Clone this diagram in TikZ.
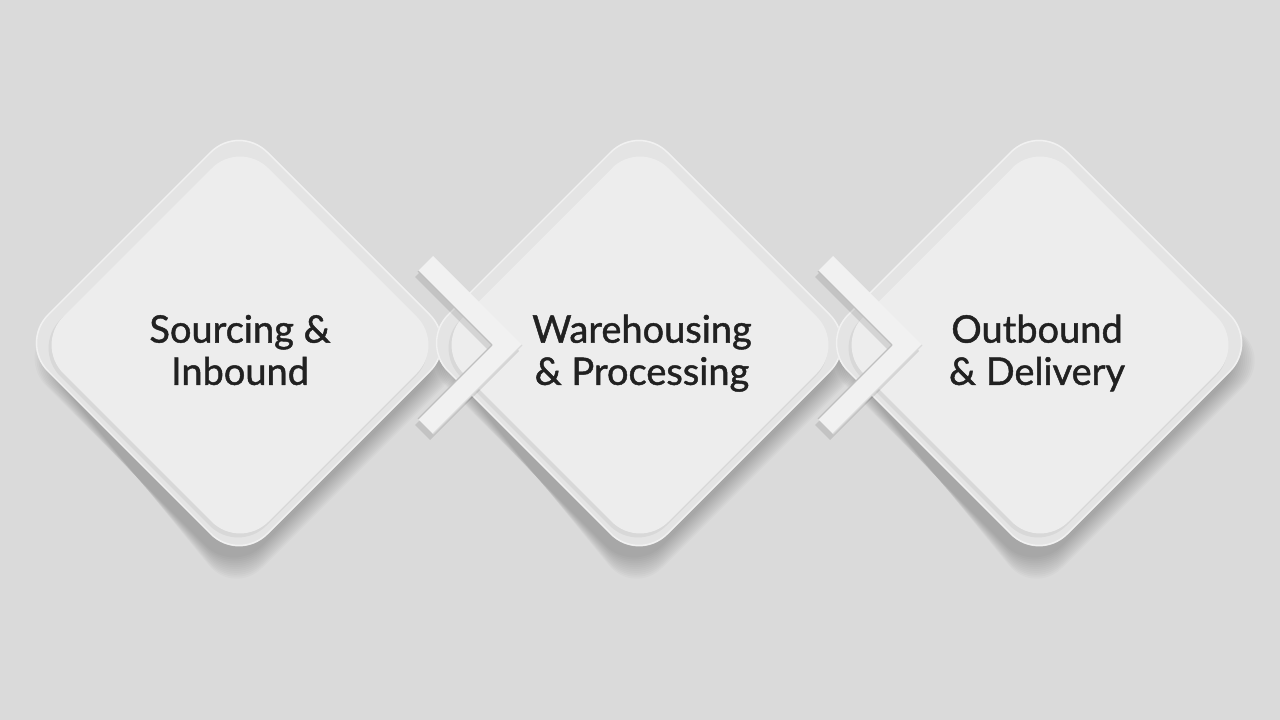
\documentclass[tikz,border=0pt]{standalone}
\usepackage{fontspec}
\setmainfont{Lato}
\newfontfamily\stepfont{Lato}[FakeBold=1.2]
\usetikzlibrary{calc}
\definecolor{bgcol}{rgb}{0.855,0.855,0.855}
\definecolor{platecol}{rgb}{0.895,0.895,0.895}
\definecolor{facecol}{rgb}{0.93,0.93,0.93}
\definecolor{chevcol}{rgb}{0.945,0.945,0.945}
\definecolor{textcol}{rgb}{0.13,0.13,0.13}
\tikzset{
  plate/.style={fill=platecol, rounded corners=1cm},
  face/.style={fill=facecol, rounded corners=1cm},
  steplabel/.style={text=textcol, align=center, text height=20pt, text depth=6pt,
    font=\stepfont\fontsize{27}{30}\selectfont},
}
% diamond with centre (#1,#2) and half diagonal #3
\newcommand{\diamondpath}[3]{(#1-#3,#2) -- (#1,#2-#3) -- (#1+#3,#2) -- (#1,#2+#3) -- cycle}

\begin{document}
\begin{tikzpicture}[x=0.025cm,y=-0.025cm]
\fill[bgcol] (0,0) rectangle (1280,720);
\coordinate (c1) at (240,345);
\coordinate (c2) at (640,345);
\coordinate (c3) at (1040,345);
% soft shadows
\foreach \cx in {240,640,1040} {
  \foreach \k in {0,...,11} {
    \fill[black, opacity=0.018, rounded corners=1cm] \diamondpath{\cx-6}{358}{216+2*\k};
  }
}
% plates and faces
\foreach \cx in {240,640,1040} {
  \fill[plate] \diamondpath{\cx-1}{343}{220};
  \draw[white, opacity=0.5, line width=1pt, rounded corners=1cm] \diamondpath{\cx-1}{343}{219};
  \fill[black, opacity=0.05, rounded corners=1cm] \diamondpath{\cx-2}{348}{206};
  \fill[face] \diamondpath{\cx}{345}{205};
}
% chevrons
\foreach \a/\b in {c1/c2, c2/c3} {
  \begin{scope}[shift={($(\a)!0.5!(\b)$)}]
    \fill[black, opacity=0.10] (-10,-83) -- (79,6) -- (-10,95) -- (-25,80) -- (49,6) -- (-25,-68) -- cycle;
    \fill[chevcol] (-7,-89) -- (82,0) -- (-7,89) -- (-22,74) -- (52,0) -- (-22,-74) -- cycle;
    \draw[black!25, line width=0.8pt, line join=round] (-22,-74) -- (52,0) -- (-22,74);
    \draw[black!15, line width=0.8pt, line join=round] (-7,89) -- (82,0);
  \end{scope}
}
% labels
\node[steplabel] (si) at ($(c1)+(0,30)$) {Sourcing \&\\Inbound};
\node[steplabel] (wp) at ($(c2)+(2,30)$) {Warehousing\\\& Processing};
\node[steplabel] (od) at ($(c3)+(-3,30)$) {Outbound\\\& Delivery};
\end{tikzpicture}
\end{document}
